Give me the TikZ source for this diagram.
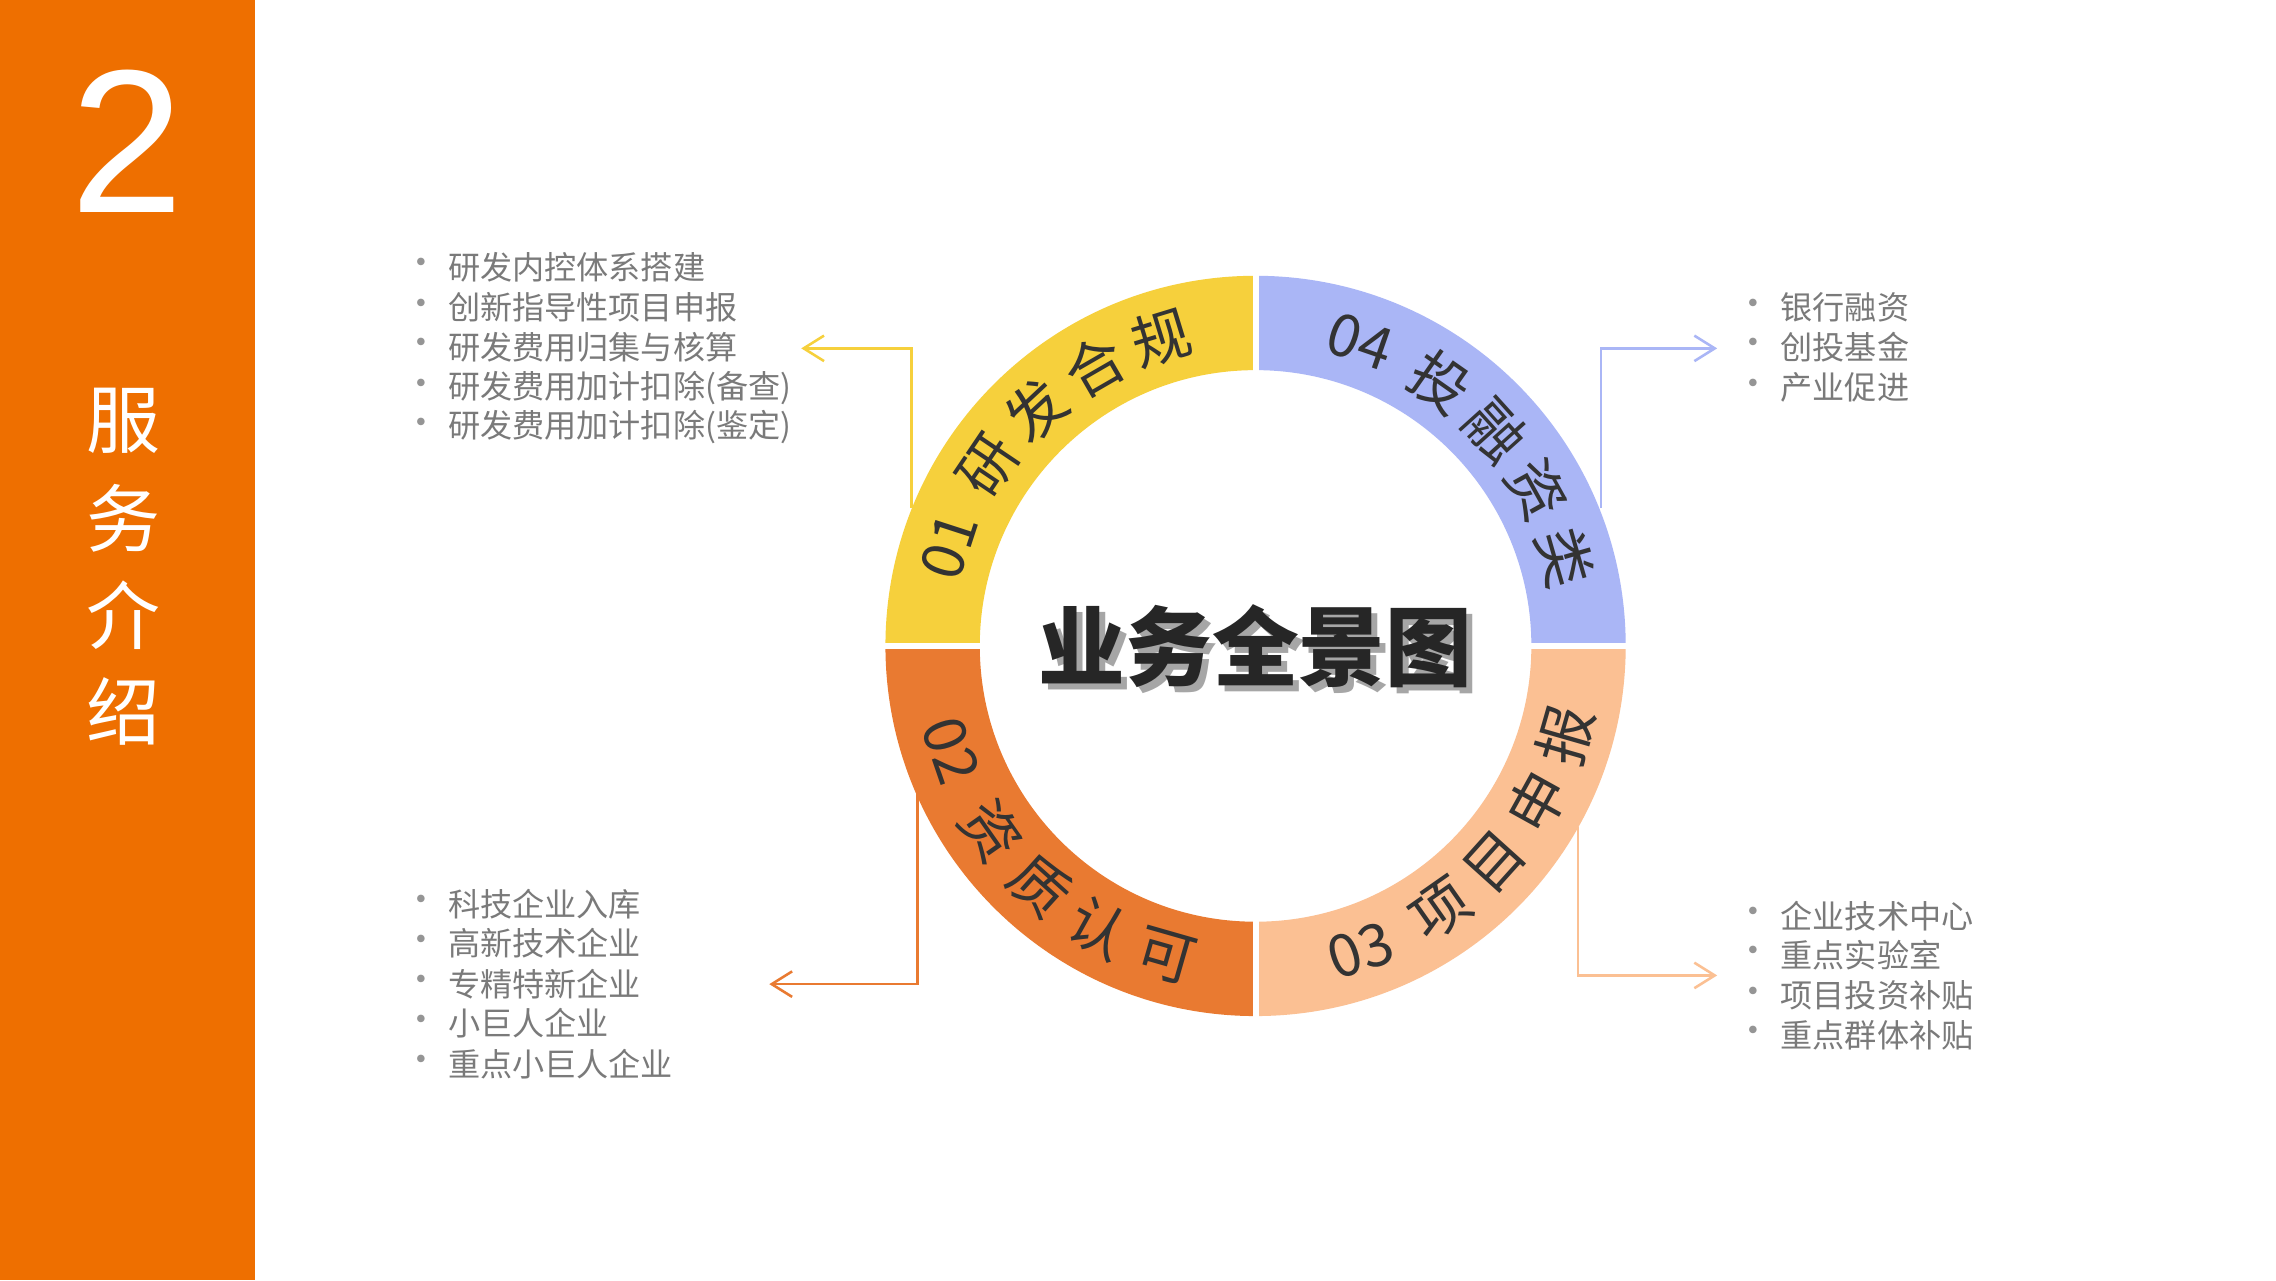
\documentclass[tikz,border=0pt]{standalone}
\usepackage{fontspec}
\setmainfont{Noto Sans CJK SC}
\newfontfamily\latinf{Liberation Sans}
\usetikzlibrary{arrows.meta}
\definecolor{side}{HTML}{EE6F00}
\definecolor{cyel}{HTML}{F6D03C}
\definecolor{clav}{HTML}{AAB6F6}
\definecolor{cpea}{HTML}{FBC093}
\definecolor{cora}{HTML}{E97A31}
\definecolor{txtg}{HTML}{7A7A7A}
\tikzset{
  item/.style={anchor=west,text=txtg,font=\fontsize{6.3pt}{7pt}\selectfont,inner sep=0},
  blt/.style={text=txtg!80,font=\fontsize{7pt}{8pt}\selectfont,inner sep=0},
  rl/.style={text=black!80,font=\fontsize{11.5pt}{13pt}\selectfont,inner sep=0},
  conn/.style={line width=0.5pt,-{Straight Barb[length=4pt,width=5pt]}},
}
\begin{document}
\begin{tikzpicture}[x=0.1mm,y=0.1mm]
\useasboundingbox (0,0) rectangle (1568,882);
\fill[white] (0,0) rectangle (1568,882);
\fill[side] (0,0) rectangle (176,882);
\node[text=white,font=\latinf\fontsize{40pt}{44pt}\selectfont] (num) at (88,785) {2};
\foreach \c/\y in {服/592,务/525,介/458,绍/392}
  \node[text=white,font=\fontsize{14.5pt}{16pt}\selectfont] at (85,\y) {\c};
% ring
\coordinate (c) at (865,437);
\begin{scope}[shift={(865,437)}]
\fill[cyel] (90:255) arc (90:180:255) -- (180:190) arc (180:90:190) -- cycle;
\fill[clav] (0:255) arc (0:90:255) -- (90:190) arc (90:0:190) -- cycle;
\fill[cpea] (-90:255) arc (-90:0:255) -- (0:190) arc (0:-90:190) -- cycle;
\fill[cora] (180:255) arc (180:270:255) -- (270:190) arc (270:180:190) -- cycle;
\draw[white,line width=1.2pt] (0:185)--(0:260) (90:185)--(90:260) (180:185)--(180:260) (270:185)--(270:260);
\foreach \t/\a in {01/162,研/146,发/133,合/120,规/107,04/71,投/55,融/42,资/29,类/16}
  \node[rl,rotate=\a-90] at (\a:222) {\t};
\foreach \t/\a in {03/-71,项/-55,目/-42,申/-29,报/-16,02/199,资/215,质/228,认/241,可/254}
  \node[rl,rotate=\a+90] at (\a:222) {\t};
\end{scope}
\node[text=black!35,font=\bfseries\fontsize{17pt}{20pt}\selectfont] at (869,433) {业务全景图};
\node[text=black!85,font=\bfseries\fontsize{17pt}{20pt}\selectfont] (title) at (865,437) {业务全景图};
% connectors
\coordinate (a1) at (628,532); \coordinate (a2) at (628,642); \coordinate (a3) at (552,642);
\coordinate (b1) at (1103,532); \coordinate (b2) at (1103,642); \coordinate (b3) at (1183,642);
\coordinate (d1) at (1087,312); \coordinate (d2) at (1087,210); \coordinate (d3) at (1183,210);
\coordinate (e1) at (632,337); \coordinate (e2) at (632,204); \coordinate (e3) at (530,204);
\draw[conn,cyel] (a1)--(a2)--(a3);
\draw[conn,clav] (b1)--(b2)--(b3);
\draw[conn,cpea] (d1)--(d2)--(d3);
\draw[conn,cora] (e1)--(e2)--(e3);
% lists
\foreach \t/\y in {研发内控体系搭建/698,创新指导性项目申报/670,研发费用归集与核算/643,研发费用加计扣除(备查)/615,研发费用加计扣除(鉴定)/588}
  {\node[blt] at (290,\y) {•}; \node[item] at (308,\y) {\t};}
\foreach \t/\y in {银行融资/670,创投基金/643,产业促进/615}
  {\node[blt] at (1208,\y) {•}; \node[item] at (1226,\y) {\t};}
\foreach \t/\y in {科技企业入库/259,高新技术企业/232,专精特新企业/204,小巨人企业/177,重点小巨人企业/149}
  {\node[blt] at (290,\y) {•}; \node[item] at (308,\y) {\t};}
\foreach \t/\y in {企业技术中心/251,重点实验室/224,项目投资补贴/196,重点群体补贴/169}
  {\node[blt] at (1208,\y) {•}; \node[item] at (1226,\y) {\t};}
\end{tikzpicture}
\end{document}
